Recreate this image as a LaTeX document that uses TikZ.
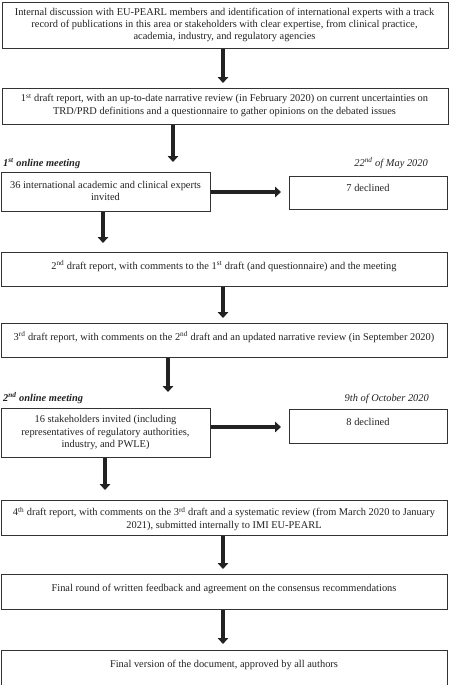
\documentclass[tikz,border=0pt]{standalone}
\usepackage{fontspec}
\setmainfont{Liberation Serif}
\usetikzlibrary{arrows.meta}
\definecolor{ink}{HTML}{222222}
\definecolor{edge}{HTML}{333333}
\tikzset{
  box/.style={draw=edge, line width=1pt, rectangle, inner sep=0pt, anchor=north west},
  txt/.style={text=ink, align=center, inner sep=0pt, font=\fontsize{10.4}{12.3}\selectfont},
  lbl/.style={text=ink, inner sep=0pt, font=\fontsize{10.4}{12.3}\selectfont},
  arr/.style={draw=ink, line width=4.8pt, -{Triangle[width=10.5pt,length=6pt]}},
}
\begin{document}
\begin{tikzpicture}[x=1pt,y=-1pt]
\useasboundingbox (0,0) rectangle (449,685);
\clip (0,0) rectangle (449,685);
\fill[white] (0,0) rectangle (449,685);

% boxes
\node[box, minimum width=446pt, minimum height=46pt] (b1) at (1.5,2.5) {};
\node[box, minimum width=446pt, minimum height=36pt] (b2) at (1.5,88) {};
\node[box, minimum width=209pt, minimum height=39pt] (b3) at (1,172) {};
\node[box, minimum width=158pt, minimum height=33pt] (b3r) at (289,176) {};
\node[box, minimum width=446pt, minimum height=34pt] (b4) at (1,252) {};
\node[box, minimum width=446pt, minimum height=34pt] (b5) at (1,323) {};
\node[box, minimum width=209pt, minimum height=49pt] (b6) at (1,408) {};
\node[box, minimum width=158pt, minimum height=34pt] (b6r) at (289,409) {};
\node[box, minimum width=446pt, minimum height=35pt] (b7) at (1,500) {};
\node[box, minimum width=446pt, minimum height=35pt] (b8) at (1,574) {};
\node[box, minimum width=446pt, minimum height=60pt] (b9) at (1,650) {};

% texts (anchor base = last line's baseline)
\node[txt, anchor=base] (t1) at (224.5,40) {Internal discussion with EU-PEARL members and identification of international experts with a track\\record of publications in this area or stakeholders with clear expertise, from clinical practice,\\academia, industry, and regulatory agencies};
\node[txt, anchor=base] (t2) at (224.5,114) {1\textsuperscript{st} draft report, with an up-to-date narrative review (in February 2020) on current uncertainties on\\TRD/PRD definitions and a questionnaire to gather opinions on the debated issues};
\node[txt, anchor=base] (t3) at (105.5,200.3) {36 international academic and clinical experts\\invited};
\node[txt, anchor=base] (t3r) at (368,191.5) {7 declined};
\node[txt, anchor=base] (t4) at (224,269) {2\textsuperscript{nd} draft report, with comments to the 1\textsuperscript{st} draft (and questionnaire) and the meeting};
\node[txt, anchor=base] (t5) at (224,340) {3\textsuperscript{rd} draft report, with comments on the 2\textsuperscript{nd} draft and an updated narrative review (in September 2020)};
\node[txt, anchor=base] (t6) at (105.5,447.5) {16 stakeholders invited (including\\representatives of regulatory authorities,\\industry, and PWLE)};
\node[txt, anchor=base] (t6r) at (368,425) {8 declined};
\node[txt, anchor=base] (t7) at (224,528) {4\textsuperscript{th} draft report, with comments on the 3\textsuperscript{rd} draft and a systematic review (from March 2020 to January\\2021), submitted internally to IMI EU-PEARL};
\node[txt, anchor=base] (t8) at (224,591) {Final round of written feedback and agreement on the consensus recommendations};
\node[txt, anchor=base] (t9) at (224,667) {Final version of the document, approved by all authors};

% labels
\node[lbl, anchor=base west] (m1) at (3,166) {\textbf{\textit{1\textsuperscript{st} online meeting}}};
\node[lbl, anchor=base east] (d1) at (428,166) {\textit{22\textsuperscript{nd} of May 2020}};
\node[lbl, anchor=base west] (m2) at (3,401) {\textbf{\textit{2\textsuperscript{nd} online meeting}}};
\node[lbl, anchor=base east] (d2) at (429,401) {\textit{9th of October 2020}};

% arrow x positions
\coordinate (x1) at (223,0);
\coordinate (x2) at (173,0);
\coordinate (x3) at (103,0);
\coordinate (x4) at (168,0);
\coordinate (x5) at (105,0);
\coordinate (y1) at (0,192);
\coordinate (y2) at (0,427);

% arrows
\draw[arr, shorten >=5pt] (b1.south -| x1) -- (b2.north -| x1);
\draw[arr, shorten >=10pt] (b2.south -| x2) -- (b3.north -| x2);
\draw[arr, shorten >=9pt] (b3.south -| x3) -- (b4.north -| x3);
\draw[arr, shorten >=5pt] (b4.south -| x1) -- (b5.north -| x1);
\draw[arr, shorten >=16pt] (b5.south -| x4) -- (b6.north -| x4);
\draw[arr, shorten >=10pt] (b6.south -| x5) -- (b7.north -| x5);
\draw[arr, shorten >=5pt] (b7.south -| x1) -- (b8.north -| x1);
\draw[arr, shorten >=6pt] (b8.south -| x1) -- (b9.north -| x1);
\draw[arr, shorten >=8pt] (b3.east |- y1) -- (b3r.west |- y1);
\draw[arr, shorten >=8pt] (b6.east |- y2) -- (b6r.west |- y2);
\end{tikzpicture}
\end{document}
